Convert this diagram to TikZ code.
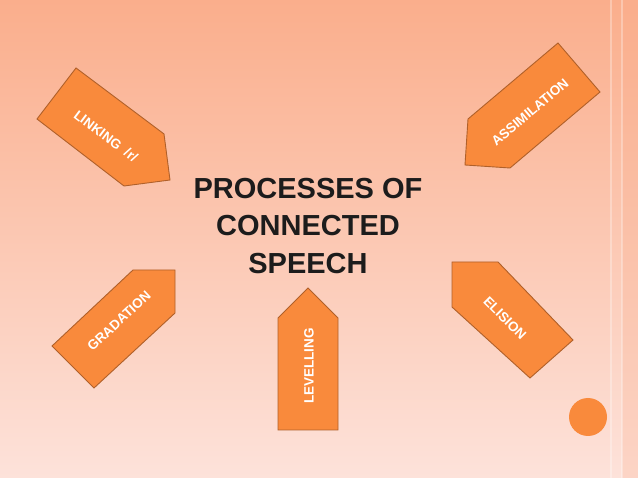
\documentclass[tikz,border=0pt]{standalone}
\usepackage{fontspec}
\setmainfont{Liberation Sans}
\begin{document}
\begin{tikzpicture}[x=1pt,y=-1pt,
  tag/.style={fill=tagfill,draw=tagedge,line width=0.9pt,line join=miter},
  tagtext/.style={text=white,font=\bfseries\fontsize{13.5}{15}\selectfont,inner sep=0pt},
  title/.style={font=\bfseries\fontsize{29}{37.5}\selectfont,align=center,text=titlecol}]
\definecolor{tagfill}{HTML}{F98A3C}
\definecolor{tagedge}{HTML}{B0602A}
\definecolor{titlecol}{HTML}{1C1C1C}
\definecolor{bgtop}{HTML}{FAAE8C}
\definecolor{bgbot}{HTML}{FDE2DA}
\useasboundingbox (0,0) rectangle (638,478);
\shade[top color=bgtop,bottom color=bgbot] (0,0) rectangle (638,478);
\fill[bgtop,opacity=0.25] (622,0) rectangle (638,478);
\draw[white,opacity=0.3,line width=1.2pt] (611,0) -- (611,478);
\draw[white,opacity=0.3,line width=1.2pt] (622,0) -- (622,478);
% title
\node[title] (t) at (308,226) {PROCESSES OF\\CONNECTED\\SPEECH};
% tags
\draw[tag] (76,68) -- (164,134) -- (170,180) -- (124,186) -- (37,119) -- cycle;
\node[tagtext,rotate=-37] (lk) at (106,136) {LINKING\ \ /r/};
\draw[tag] (558,43) -- (600,92) -- (510,168) -- (465,165) -- (468,119) -- cycle;
\node[tagtext,rotate=40] (as) at (530,112) {ASSIMILATION};
\draw[tag] (133,270) -- (175,270) -- (175,313) -- (94,388) -- (52,346) -- cycle;
\node[tagtext,rotate=43] (gr) at (119,321) {GRADATION};
\draw[tag] (452,262) -- (498,262) -- (573,340) -- (530,378) -- (452,307) -- cycle;
\node[tagtext,rotate=-45] (el) at (505,318) {ELISION};
\draw[tag] (308,288) -- (338,318) -- (338,430) -- (278,430) -- (278,318) -- cycle;
\node[tagtext,rotate=90] (lv) at (309,366) {LEVELLING};
\fill[tagfill] (588,417) circle (19);
\end{tikzpicture}
\end{document}
